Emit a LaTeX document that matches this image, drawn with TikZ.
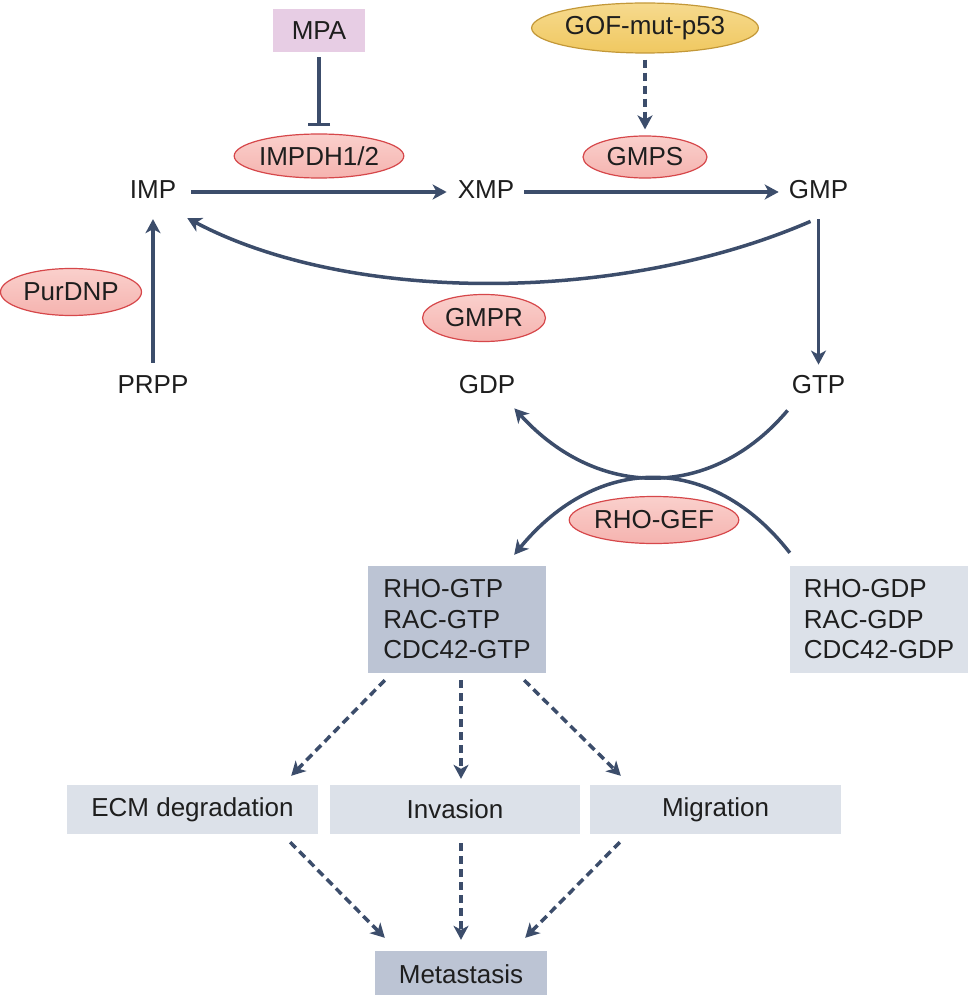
\documentclass[tikz,border=0pt]{standalone}
\usepackage{fontspec}
\setmainfont{Liberation Sans}
\usetikzlibrary{arrows.meta,shapes.geometric}
\definecolor{linec}{HTML}{3C4D6B}
\definecolor{txt}{HTML}{1E1E1E}
\definecolor{pinkf}{HTML}{F5B3AF}
\definecolor{pinkt}{HTML}{FAD0CC}
\definecolor{pinkd}{HTML}{D6474A}
\definecolor{goldf}{HTML}{F0C860}
\definecolor{goldt}{HTML}{F6DA8E}
\definecolor{goldd}{HTML}{C39838}
\definecolor{mpaf}{HTML}{E7CDE4}
\definecolor{darkbox}{HTML}{BCC4D4}
\definecolor{lightbox}{HTML}{DCE1E9}
\tikzset{
  lbl/.style={inner sep=0pt, text=txt, font=\fontsize{26}{30.5}\selectfont},
  enz/.style={lbl, ellipse, draw=pinkd, line width=1.2pt, top color=pinkt, bottom color=pinkf},
  gofst/.style={lbl, ellipse, draw=goldd, line width=1.2pt, top color=goldt, bottom color=goldf},
  boxd/.style={lbl, fill=darkbox},
  boxl/.style={lbl, fill=lightbox},
  conn/.style={draw=linec, line width=3.5pt, -{Stealth[length=14pt,width=15pt,inset=4pt]}},
  dconn/.style={conn, dash pattern=on 8pt off 5pt},
  inhib/.style={draw=linec, line width=3.5pt, -{Bar[width=22pt]}},
}
\begin{document}
\begin{tikzpicture}[x=1pt,y=-1pt]
\useasboundingbox (0,0) rectangle (968,995);

% top agents
\node[lbl, fill=mpaf, minimum width=92pt, minimum height=43pt] (mpa) at (319,30.5) {MPA};
\node[gofst, minimum width=197pt, minimum height=50pt] (gof) at (645,28) {GOF-mut-p53};

% enzymes
\node[enz, minimum width=142pt, minimum height=44pt] (impdh) at (319,156) {IMPDH1/2};
\node[enz, minimum width=124pt, minimum height=42pt] (gmps) at (645,157) {GMPS};
\node[enz, minimum width=141pt, minimum height=47pt] (purdnp) at (71,292) {PurDNP};
\node[enz, minimum width=123pt, minimum height=47pt] (gmpr) at (484,318) {GMPR};
\node[enz, minimum width=141pt, minimum height=47pt] (rhogef) at (654,520) {RHO-GEF};

% metabolites
\node[lbl] (imp) at (153,190) {IMP};
\node[lbl] (xmp) at (486,190) {XMP};
\node[lbl] (gmp) at (818.5,190) {GMP};
\node[lbl] (prpp) at (153,385) {PRPP};
\node[lbl] (gdp) at (487,385) {GDP};
\node[lbl] (gtp) at (818.5,385) {GTP};

% GTPase boxes
\node[boxd, minimum width=178pt, minimum height=107pt, align=left] (rgtp) at (457,619.5)
  {RHO-GTP\\RAC-GTP\\CDC42-GTP};
\node[boxl, minimum width=178pt, minimum height=107pt, align=left] (rgdp) at (879,619.5)
  {RHO-GDP\\RAC-GDP\\CDC42-GDP};

% outcome boxes
\node[boxl, minimum width=251pt, minimum height=49pt] (ecm) at (192.5,809.5) {ECM degradation};
\node[boxl, minimum width=250pt, minimum height=49pt] (inv) at (455,809.5) {Invasion};
\node[boxl, minimum width=251pt, minimum height=49pt] (mig) at (715.5,809.5) {Migration};
\node[boxd, minimum width=172pt, minimum height=46pt] (meta) at (461,974) {Metastasis};

% inhibition and induction
\draw[inhib] ([shift={(0,5)}]mpa.south) -- ([shift={(0,-7)}]impdh.north);
\draw[dconn] ([shift={(0,6)}]gof.south) -- ([shift={(0,-6)}]gmps.north);

% pathway
\draw[conn] ([shift={(15,2)}]imp.east) -- ([shift={(-11,2)}]xmp.west);
\draw[conn] ([shift={(10,2)}]xmp.east) -- ([shift={(-10,2)}]gmp.west);
\draw[conn] ([shift={(0,-13)}]prpp.north) -- ([shift={(0,20)}]imp.south);
\draw[conn] ([shift={(0,20)}]gmp.south) -- ([shift={(0,-11)}]gtp.north);
\draw[conn] ([shift={(-8,22)}]gmp.south) .. controls (620,304) and (350,304) .. ([shift={(11,19)}]imp.south east);

% GTP/GDP exchange
\draw[conn] ([shift={(-4,16)}]gtp.south west) .. controls (712,500) and (598,500) .. ([shift={(-1,14)}]gdp.south east);
\draw[conn] ([shift={(0,-13)}]rgdp.north west) .. controls (712,453) and (598,453) .. ([shift={(-32,-11)}]rgtp.north east);

% downstream effects
\draw[dconn] ([shift={(17,7)}]rgtp.south west) -- ([shift={(-27,-9)}]ecm.north east);
\draw[dconn] ([shift={(4,7)}]rgtp.south) -- ([shift={(6,-6)}]inv.north);
\draw[dconn] ([shift={(-22,7)}]rgtp.south east) -- ([shift={(31,-9)}]mig.north west);
\draw[dconn] ([shift={(-28,8)}]ecm.south east) -- ([shift={(10,-13)}]meta.north west);
\draw[dconn] ([shift={(6,9)}]inv.south) -- ([shift={(0,-11)}]meta.north);
\draw[dconn] ([shift={(30,8)}]mig.south west) -- ([shift={(-22,-13)}]meta.north east);
\end{tikzpicture}
\end{document}
